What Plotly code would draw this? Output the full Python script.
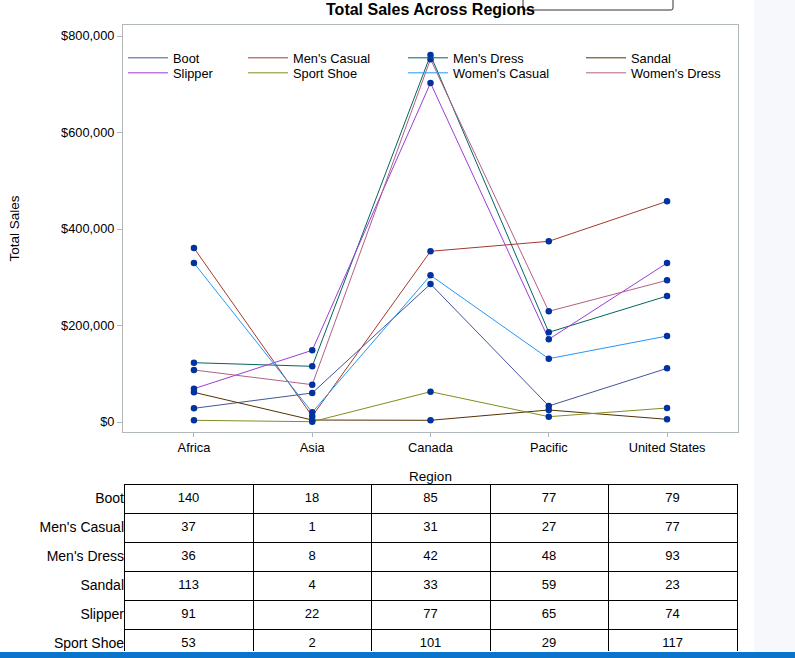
import plotly.graph_objects as go

# ---------------- data ----------------
regions = ["Africa", "Asia", "Canada", "Pacific", "United States"]
products = ["Boot", "Men's Casual", "Men's Dress", "Sandal",
            "Slipper", "Sport Shoe", "Women's Casual", "Women's Dress"]

boot = [28400, 60100, 286000, 33200, 111200]
mens_casual = [360600, 12000, 353800, 374500, 457400]
mens_dress = [122900, 115400, 760600, 185900, 261100]
sandal = [61500, 4100, 3500, 24900, 5600]
slipper = [69000, 148600, 702600, 171400, 329500]
sport_shoe = [3500, 600, 62800, 11000, 29000]
womens_casual = [329500, 20100, 304000, 131200, 178200]
womens_dress = [107800, 77300, 752000, 229400, 293600]

sales = [boot, mens_casual, mens_dress, sandal, slipper, sport_shoe,
         womens_casual, womens_dress]

y_tickvals = [0, 200000, 400000, 600000, 800000]
y_ticktext = ["$0", "$200,000", "$400,000", "$600,000", "$800,000"]

# table (stores per region) - visible rows
table_products = ["Boot", "Men's Casual", "Men's Dress", "Sandal", "Slipper", "Sport Shoe"]
t_boot = [140, 18, 85, 77, 79]
t_mens_casual = [37, 1, 31, 27, 77]
t_mens_dress = [36, 8, 42, 48, 93]
t_sandal = [113, 4, 33, 59, 23]
t_slipper = [91, 22, 77, 65, 74]
t_sport_shoe = [53, 2, 101, 29, 117]
table_rows = [t_boot, t_mens_casual, t_mens_dress, t_sandal, t_slipper, t_sport_shoe]

# ---------------- style ----------------
W, H = 795, 658
colors = ["#445694", "#A23A2E", "#01665E", "#543005",
          "#9D3CDB", "#7F8E1F", "#2597FA", "#B26084"]
marker_color = "#0033A0"
frame_color = "#B0B7BB"
FONT = "Arial, Liberation Sans, sans-serif"


def px(x):
    return x / W


def py(y):
    return 1 - y / H


fig = go.Figure()

# legend placement: column text x, row y
legend_text_x = [173, 293, 453, 631]
legend_row_y = [58, 73]

for i, (name, vals) in enumerate(zip(products, sales)):
    lg = "legend" if i == 0 else f"legend{i + 1}"
    fig.add_trace(go.Scatter(
        x=regions, y=vals, name=name, mode="lines",
        line=dict(color=colors[i], width=1),
        legend=lg, hoverinfo="skip"))

for i, (name, vals) in enumerate(zip(products, sales)):
    fig.add_trace(go.Scatter(
        x=regions, y=vals, name=name, mode="markers",
        marker=dict(color=marker_color, size=6.5), showlegend=False))

# legends, one per entry
legend_layout = {}
for i in range(len(products)):
    col = i % 4
    row = i // 4
    key = "legend" if i == 0 else f"legend{i + 1}"
    legend_layout[key] = dict(
        x=px(legend_text_x[col] - 50), y=py(legend_row_y[row] - 15),
        xanchor="left", yanchor="top",
        bgcolor="rgba(0,0,0,0)", borderwidth=0,
        font=dict(family=FONT, size=12.8, color="#000000"),
        itemwidth=40, tracegroupgap=0)

# tables
label_cells = [table_products]
data_cells = [[row[j] for row in table_rows] for j in range(len(regions))]

tab_top = 468
tab_bottom = 652
fig.add_trace(go.Table(
    domain=dict(x=[0, px(132)], y=[py(tab_bottom), py(tab_top)]),
    columnwidth=[132],
    header=dict(values=[], height=1, line=dict(width=0, color="white"),
                fill=dict(color="rgba(0,0,0,0)")),
    cells=dict(values=label_cells, height=29, align="right",
               line=dict(width=0, color="white"), fill=dict(color="white"),
               font=dict(family=FONT, size=14, color="#000000"))))

fig.add_trace(go.Table(
    domain=dict(x=[px(124), px(737)], y=[py(tab_bottom), py(tab_top)]),
    columnwidth=[129, 118, 119, 118, 129],
    header=dict(values=[], height=1, line=dict(width=0, color="white"),
                fill=dict(color="rgba(0,0,0,0)")),
    cells=dict(values=data_cells, height=29, align="center",
               line=dict(width=1, color="#000000"), fill=dict(color="white"),
               font=dict(family=FONT, size=13, color="#000000"))))

fig.update_layout(
    width=W, height=H, autosize=False,
    margin=dict(l=0, r=0, t=0, b=0),
    paper_bgcolor="white", plot_bgcolor="white",
    font=dict(family=FONT, size=13, color="#000000"),
    title=dict(text="Total Sales Across Regions", x=px(430.5), y=py(9),
               xref="paper", yref="paper", xanchor="center", yanchor="middle",
               font=dict(family=FONT, size=16, color="#000000", weight="bold")),
    xaxis=dict(domain=[px(123), px(738)], type="category",
               categoryorder="array", categoryarray=regions,
               range=[-0.6, 4.6], showline=True, mirror=True,
               linecolor=frame_color, linewidth=1, showgrid=False,
               ticks="outside", ticklen=4, tickcolor=frame_color,
               tickfont=dict(family=FONT, size=12.8, color="#000000"),
               title=dict(text="Region", standoff=17,
                          font=dict(family=FONT, size=13.5, color="#000000")),
               automargin=False),
    yaxis=dict(domain=[py(432), py(25)],
               range=[-20725, 822800], tickmode="array",
               tickvals=y_tickvals, ticktext=y_ticktext,
               showline=True, mirror=True,
               linecolor=frame_color, linewidth=1, showgrid=False, zeroline=False,
               ticks="outside", ticklen=5, tickcolor=frame_color,
               tickfont=dict(family=FONT, size=12.8, color="#000000"),
               title=dict(text="Total Sales", standoff=38,
                          font=dict(family=FONT, size=13.5, color="#000000")),
               automargin=False),
    showlegend=True,
    shapes=[
        dict(type="rect", xref="paper", yref="paper",
             x0=px(754), x1=1, y0=py(652), y1=1,
             fillcolor="#F7F8FC", line=dict(width=0), layer="below"),
        dict(type="rect", xref="paper", yref="paper",
             x0=0, x1=1, y0=0, y1=py(652),
             fillcolor="#0A74CC", line=dict(width=0), layer="above"),
        dict(type="path", xref="paper", yref="paper",
             path=f"M {px(523)} {py(-2)} L {px(523)} {py(10)} L {px(671)} {py(10)} "
                  f"Q {px(673)} {py(10)} {px(673)} {py(8)} L {px(673)} {py(-2)}",
             line=dict(color="#333333", width=1), layer="above"),
    ],
    **legend_layout,
)

fig.write_html("out.html", config={"displayModeBar": False},
               post_script="document.body.style.margin='0';document.body.style.overflow='hidden';")
